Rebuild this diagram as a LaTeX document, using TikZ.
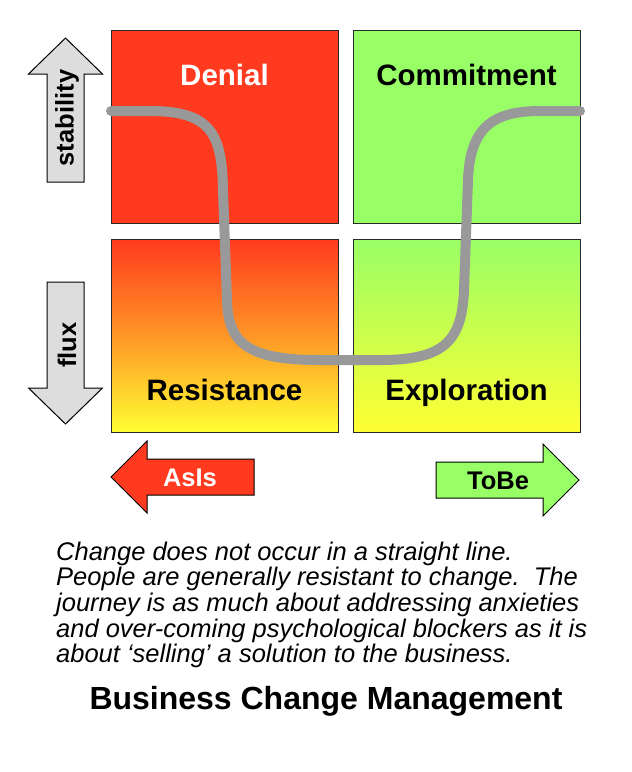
\documentclass[tikz,border=0pt]{standalone}
\usepackage{fontspec}
\setmainfont{Liberation Sans}
\definecolor{cred}{RGB}{255,58,30}
\definecolor{cgreen}{RGB}{153,255,102}
\definecolor{cyellow}{RGB}{255,255,51}
\definecolor{corange}{RGB}{255,150,38}
\definecolor{cgray}{RGB}{221,221,221}
\definecolor{cpath}{RGB}{153,153,153}
\definecolor{cedge}{RGB}{40,40,40}
\begin{document}
\begin{tikzpicture}[x=1pt,y=-1pt,
  box/.style={draw=cedge,line width=0.9pt,minimum width=227pt,minimum height=193pt,inner sep=0pt},
  lbl/.style={font=\bfseries\fontsize{29.5}{31}\selectfont,inner sep=0pt,anchor=base},
  albl/.style={font=\bfseries\fontsize{25.5}{27}\selectfont,inner sep=0pt},
  arrowshape/.style={draw=black,line width=1pt,line join=miter}]
\useasboundingbox (0,0) rectangle (632,772);
% boxes
\node[box,fill=cred] (denial) at (224.5,126.5) {};
\node[box,fill=cgreen] (commit) at (466.5,126.5) {};
\node[box,top color=cred,bottom color=cyellow,middle color=corange] (resist) at (224.5,335.5) {};
\node[box,top color=cgreen,bottom color=cyellow] (explor) at (466.5,335.5) {};
% curve
\draw[cpath,line width=10pt,line cap=round,line join=round]
  (111,111) -- (150,111) .. controls (212,111) and (222,135) .. (223,190)
  -- (227,300) .. controls (228,345) and (250,360) .. (320,360)
  -- (385,360) .. controls (445,359) and (462,340) .. (464,290)
  -- (468,180) .. controls (470,130) and (490,111) .. (540,111) -- (580,111);
% labels
\node[lbl,white] (tden) at (224.5,85) {Denial};
\node[lbl] (tcom) at (466.5,85) {Commitment};
\node[lbl] (tres) at (224.5,400) {Resistance};
\node[lbl] (texp) at (466.5,400) {Exploration};
% vertical arrows
\draw[arrowshape,fill=cgray] (65.5,38) -- (102.5,74) -- (84,74) -- (84,182) -- (47,182) -- (47,74) -- (28.5,74) -- cycle;
\node[albl,rotate=90] (tstab) at (67,118) {stability};
\draw[arrowshape,fill=cgray] (47,282) -- (84,282) -- (84,388) -- (102.5,388) -- (65.5,424) -- (28.5,388) -- (47,388) -- cycle;
\node[albl,rotate=90] (tflux) at (67,345) {flux};
% horizontal arrows
\draw[arrowshape,fill=cred] (111,477) -- (147,441) -- (147,459) -- (254,459) -- (254,495) -- (147,495) -- (147,513) -- cycle;
\node[albl,white] (tasis) at (190,478) {AsIs};
\draw[arrowshape,fill=cgreen] (436,462) -- (543,462) -- (543,444) -- (579,480) -- (543,516) -- (543,498) -- (436,498) -- cycle;
\node[albl] (ttobe) at (498,481) {ToBe};
% text
\node[anchor=north west,align=left,inner sep=0pt,font=\itshape\fontsize{25.5}{25.7}\selectfont] (desc) at (56,541.5)
 {Change does not occur in a straight line.\\
  People are generally resistant to change.\ \ The\\
  journey is as much about addressing anxieties\\
  and over-coming psychological blockers as it is\\
  about ‘selling’ a solution to the business.};
\node[font=\bfseries\fontsize{32}{34}\selectfont,inner sep=0pt] (title) at (326,701) {Business Change Management};
\end{tikzpicture}
\end{document}
